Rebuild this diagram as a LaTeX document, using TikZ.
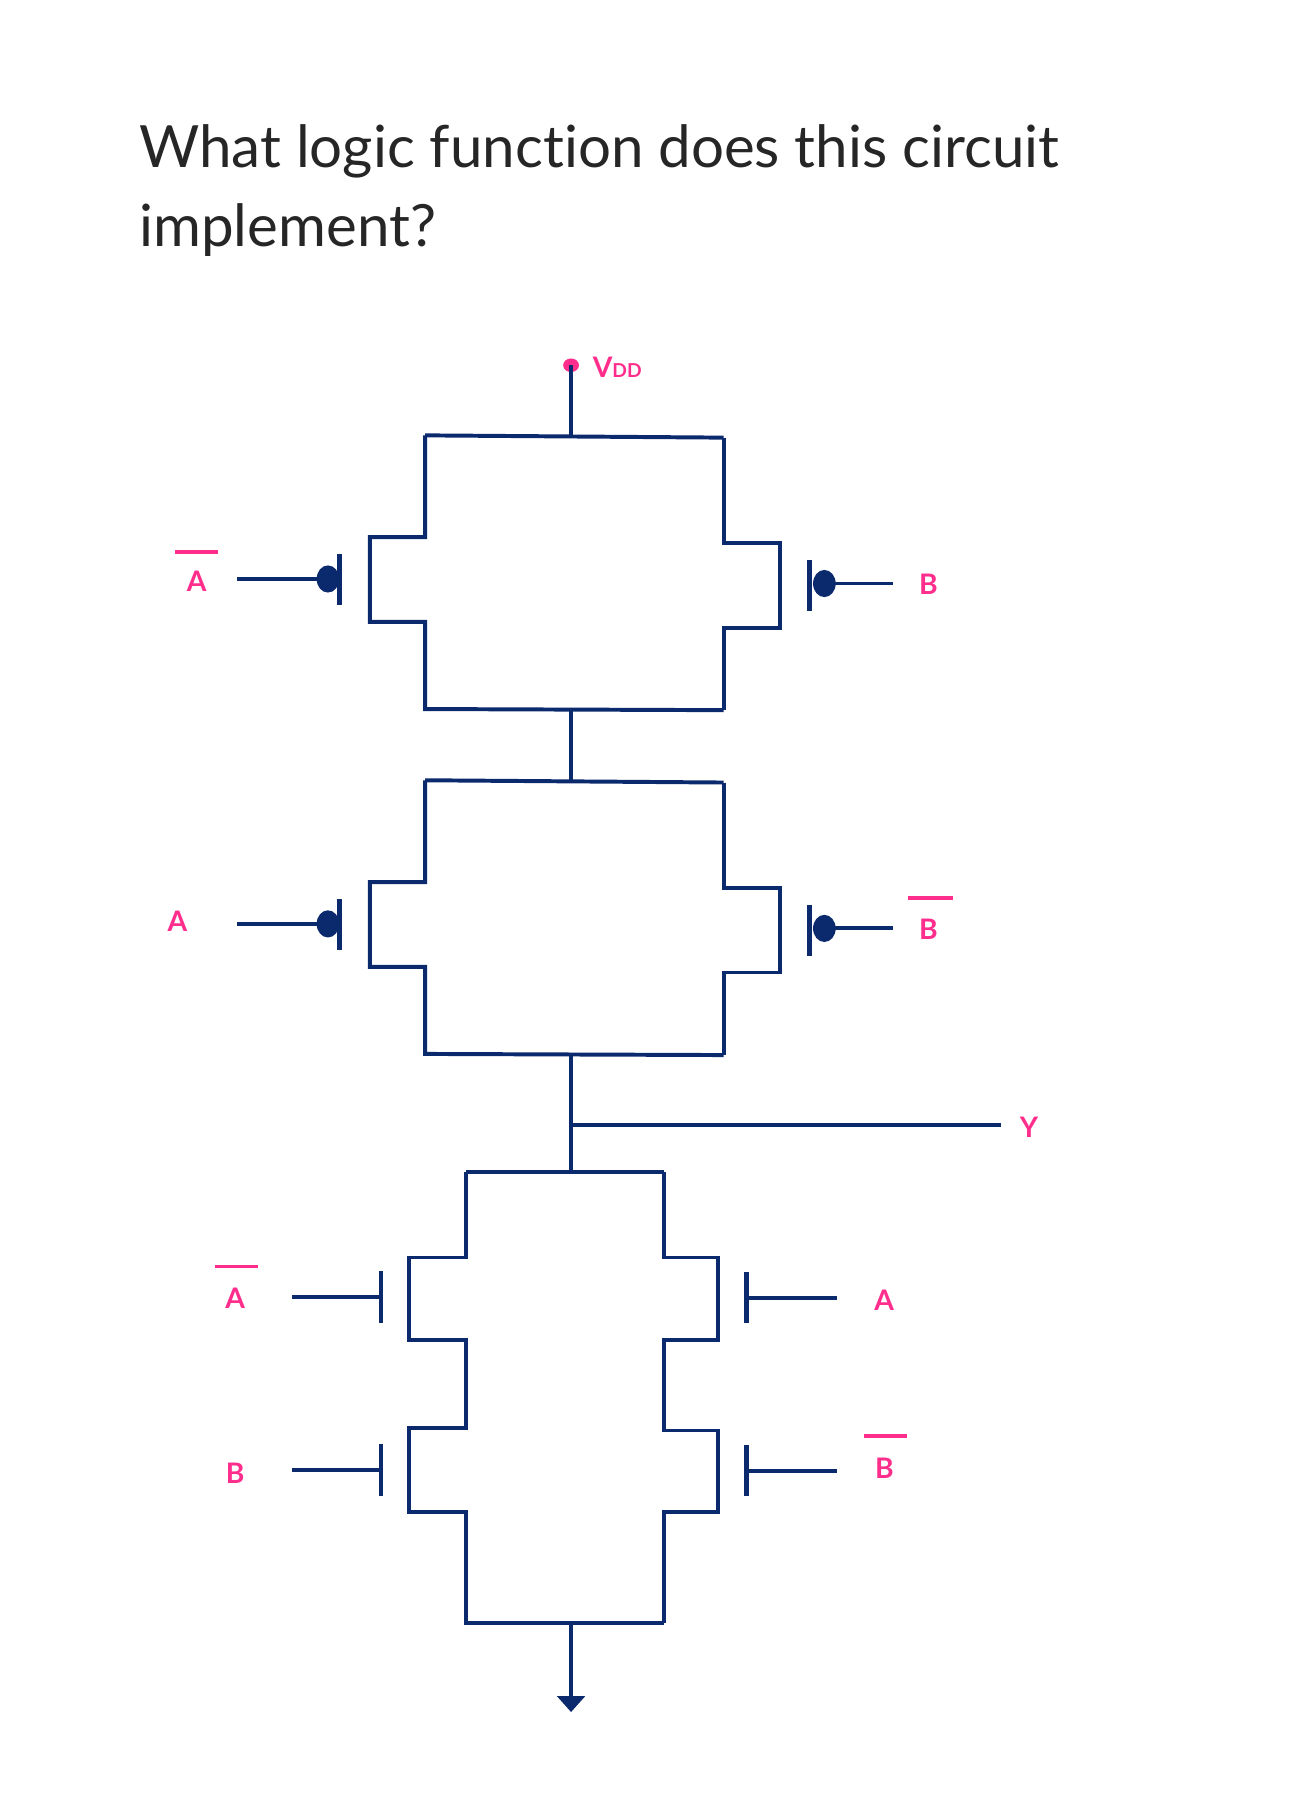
\documentclass[tikz,border=0pt]{standalone}
\usepackage{fontspec}
\setmainfont[Ligatures=NoCommon]{Lato}
\usetikzlibrary{arrows.meta}
\definecolor{navy}{HTML}{0B2A6E}
\definecolor{pink}{HTML}{FF2E8C}
\begin{document}
\begin{tikzpicture}[x=1pt,y=-1pt,
  wire/.style={draw=navy,line width=3.5pt,line join=miter},
  gate/.style={draw=navy,line width=4pt},
  lbl/.style={text=pink,font=\fontsize{25}{27}\selectfont\bfseries,inner sep=0pt}]
\useasboundingbox (0,0) rectangle (1141,1590);
\node[anchor=base west,inner sep=0pt,font=\fontsize{51.5}{60}\selectfont,text=black!85] (t1) at (123,148) {What logic function does this circuit};
\node[anchor=base west,inner sep=0pt,font=\fontsize{51.5}{60}\selectfont,text=black!85] (t2) at (123,218) {implement?};
% VDD
\fill[pink] (505,323) ellipse (7 and 6);
\coordinate (vdd) at (505,323);
\node[lbl,anchor=west] (vddl) at (524,325) {V\fontsize{17}{18}\selectfont DD};
\draw[wire] (vdd) -- (505,386);
% PMOS blocks
\foreach \o/\n in {0/1,305/2}{
 \draw[wire] (376,385+\o) -- (640,387+\o);
 \draw[wire] (376,385+\o) -- (376,475+\o) -- (327,475+\o) -- (327,550+\o) -- (376,550+\o) -- (376,627+\o) -- (640,628+\o);
 \draw[wire] (640,387+\o) -- (640,480+\o) -- (690,480+\o) -- (690,555+\o) -- (640,555+\o) -- (640,628+\o);
 \draw[gate] (300,490+\o) -- (300,535+\o);
 \fill[navy] (290,512+\o) ellipse (10 and 12);
 \draw[wire] (210,512+\o) -- (290,512+\o);
 \draw[gate] (716,495+\o) -- (716,540+\o);
 \fill[navy] (729,516+\o) ellipse (10 and 12);
 \draw[wire] (729,516+\o) -- (790,516+\o);
}
\node[lbl] (la1) at (174,514) {A};
\draw[pink,line width=3pt] (155,488) -- (193,488);
\node[lbl] (lb1) at (821,517) {B};
\node[lbl] (la2) at (157,815) {A};
\node[lbl] (lb2) at (821,822) {B};
\draw[pink,line width=3pt] (803,794) -- (843,794);
\draw[wire] (505,628) -- (505,691);
\draw[wire] (505,931) -- (505,1037);
\draw[wire] (505,995) -- (885,995);
\node[lbl] (ly) at (910,997) {Y};
% NMOS block
\draw[wire] (412,1036) -- (587,1036);
\draw[wire] (412,1036) -- (412,1112) -- (362,1112) -- (362,1185) -- (412,1185) -- (412,1263) -- (362,1263) -- (362,1337) -- (412,1337) -- (412,1435) -- (587,1435);
\draw[wire] (587,1036) -- (587,1112) -- (635,1112) -- (635,1185) -- (587,1185) -- (587,1265) -- (635,1265) -- (635,1337) -- (587,1337) -- (587,1435);
\foreach \y in {1147,1300}{
 \draw[gate] (337,\y-23) -- (337,\y+23);
 \draw[wire] (258,\y) -- (337,\y);
 \draw[gate] (660,\y-22) -- (660,\y+23);
 \draw[wire] (660,\y+1) -- (740,\y+1);
}
\node[lbl] (la3) at (208,1148) {A};
\draw[pink,line width=3pt] (190,1120) -- (228,1120);
\node[lbl] (lb3) at (208,1303) {B};
\node[lbl] (la4) at (782,1150) {A};
\node[lbl] (lb4) at (782,1298) {B};
\draw[pink,line width=3pt] (764,1270) -- (802,1270);
\coordinate (gnd) at (505,1514);
\draw[wire,-{Triangle[length=14pt,width=24pt]}] (505,1435) -- (gnd);
\end{tikzpicture}
\end{document}
